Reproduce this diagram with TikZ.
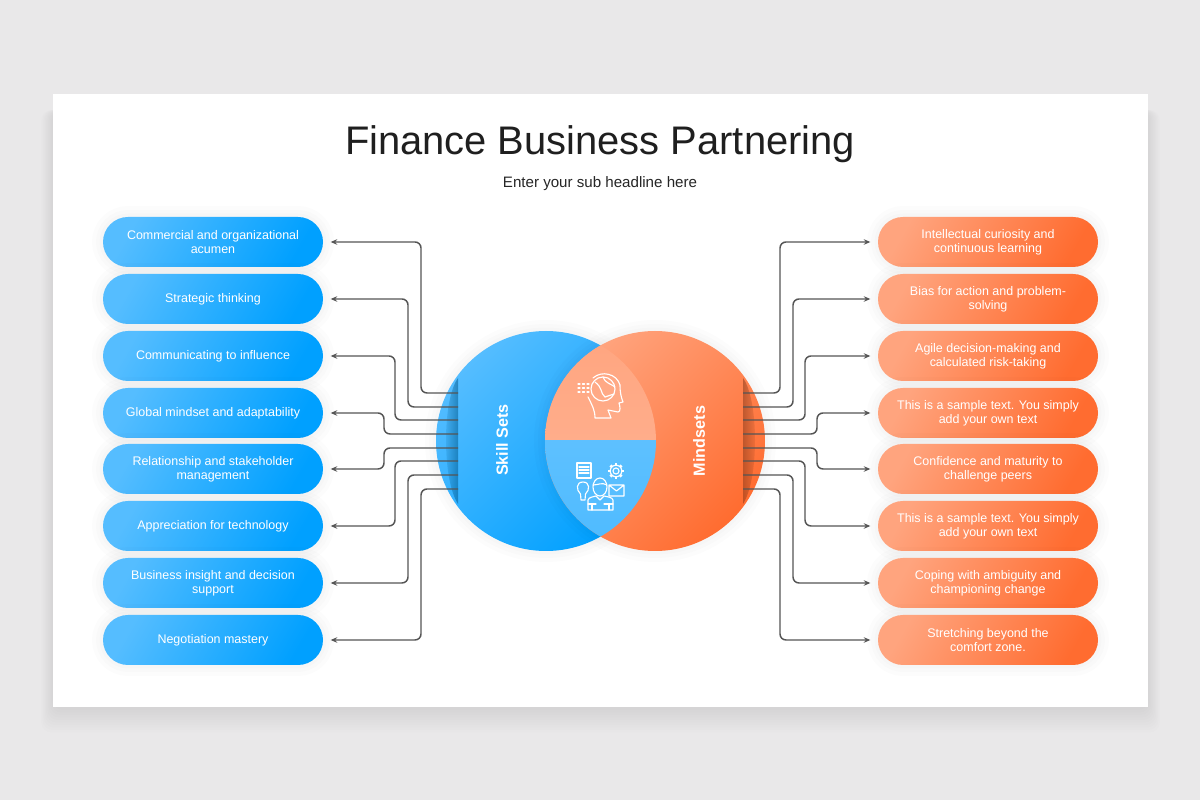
\documentclass[tikz,border=0pt]{standalone}
\usepackage{fontspec}
\setmainfont{Liberation Sans}
\usetikzlibrary{arrows.meta,shapes,fadings,calc}
\definecolor{pagegray}{HTML}{E9E8E9}
\definecolor{skylight}{HTML}{55BDFF}
\definecolor{skydeep}{HTML}{00A0FF}
\definecolor{sunlight}{HTML}{FFA47E}
\definecolor{sundeep}{HTML}{FF6C30}
\definecolor{linkgray}{HTML}{555555}
\tikzstyle{softglow}=[preaction={draw=black,draw opacity=.012,line width=.22cm},preaction={draw=black,draw opacity=.012,line width=.14cm},preaction={draw=black,draw opacity=.012,line width=.07cm}]
\tikzstyle{pill}=[rounded rectangle,minimum width=2.2cm,minimum height=.5cm,inner sep=0pt,text=white,align=center,font=\fontsize{3.55}{4.1}\selectfont,softglow]
\tikzstyle{skillbox}=[pill,top color=skylight,bottom color=skydeep,shading angle=60]
\tikzstyle{mindbox}=[pill,top color=sunlight,bottom color=sundeep,shading angle=60]
\tikzstyle{link}=[draw=linkgray,line width=.42pt,rounded corners=.06cm,-{Stealth[length=.065cm,width=.055cm]},shorten >=.07cm]
\tikzstyle{icon}=[draw=white,line width=.32pt,line join=round,line cap=round]
\tikzstyle{bigcircle}=[circle,minimum size=2.2cm,inner sep=0pt,softglow]
\begin{document}
\begin{tikzpicture}[y=-1cm]
	\useasboundingbox (0,0) rectangle (12,8);
	\fill[pagegray] (0,0) rectangle (12,8);
	% card with its shadow
	\foreach \s in {.01,.035,...,.26}
		\fill[black,opacity=.009,rounded corners=.1cm] (.53-.5*\s,1.1) rectangle (11.48+.5*\s,7.07+\s+.02);
	\fill[white] (.53,.94) rectangle (11.48,7.07);
	\node[text=black!88,font=\fontsize{11.35}{13}\selectfont] (headline) at (6,1.44) {Finance Business Partnering};
	\node[text=black!85,font=\fontsize{4.3}{5}\selectfont] (subline) at (6,1.84) {Enter your sub headline here};
	% circles
	\node[bigcircle,top color=skylight,bottom color=skydeep,shading angle=45] (skill) at (5.46,4.41) {};
	\node[bigcircle,top color=sunlight,bottom color=sundeep,shading angle=45] (mind) at (6.55,4.41) {};
	\begin{scope}
		\clip (skill.center) circle (1.1);
		\clip (mind.center) circle (1.1);
		\shade[top color=sunlight,bottom color=sunlight!90!white] (5,3.2) rectangle (7,4.41);
		\shade[top color=skylight!95!white,bottom color=skylight!90!skydeep] (5,4.41) rectangle (7,5.6);
	\end{scope}
	% dark edges beside the line ends
	\begin{scope}
		\clip (skill.center) circle (1.1);
		\fill[skydeep!55!black,opacity=.55,path fading=west] (4.58,3.78) .. controls (4.42,4.0) and (4.42,4.8) .. (4.58,5.04) -- cycle;
	\end{scope}
	\begin{scope}
		\clip (mind.center) circle (1.1);
		\fill[sundeep!55!black,opacity=.55,path fading=east] (7.43,3.78) .. controls (7.59,4.0) and (7.59,4.8) .. (7.43,5.04) -- cycle;
	\end{scope}
	\node[rotate=90,text=white,font=\fontsize{4.6}{5}\bfseries\selectfont] (skilltext) at (5.02,4.4) {Skill Sets};
	\node[rotate=90,text=white,font=\fontsize{4.6}{5}\bfseries\selectfont] (mindtext) at (6.99,4.41) {Mindsets};
	% left boxes
	\node[skillbox] (l1) at (2.13,2.42) {Commercial and organizational\\acumen};
	\node[skillbox] (l2) at (2.13,2.99) {Strategic thinking};
	\node[skillbox] (l3) at (2.13,3.56) {Communicating to influence};
	\node[skillbox] (l4) at (2.13,4.13) {Global mindset and adaptability};
	\node[skillbox] (l5) at (2.13,4.69) {Relationship and stakeholder\\management};
	\node[skillbox] (l6) at (2.13,5.26) {Appreciation for technology};
	\node[skillbox] (l7) at (2.13,5.83) {Business insight and decision\\support};
	\node[skillbox] (l8) at (2.13,6.40) {Negotiation mastery};
	% right boxes
	\node[mindbox] (r1) at (9.88,2.42) {Intellectual curiosity and\\continuous learning};
	\node[mindbox] (r2) at (9.88,2.99) {Bias for action and problem-\\solving};
	\node[mindbox] (r3) at (9.88,3.56) {Agile decision-making and\\calculated risk-taking};
	\node[mindbox] (r4) at (9.88,4.13) {This is a sample text.  You simply\\add your own text};
	\node[mindbox] (r5) at (9.88,4.69) {Confidence and maturity to\\challenge peers};
	\node[mindbox] (r6) at (9.88,5.26) {This is a sample text.  You simply\\add your own text};
	\node[mindbox] (r7) at (9.88,5.83) {Coping with ambiguity and\\championing change};
	\node[mindbox] (r8) at (9.88,6.40) {Stretching beyond the\\comfort zone.};
	% connectors
	\foreach \i/\xl/\xr/\yv in {1/4.21/7.80/3.93,2/4.08/7.93/4.07,3/3.95/8.05/4.20,4/3.84/8.17/4.34,5/3.84/8.17/4.48,6/3.95/8.05/4.61,7/4.08/7.93/4.75,8/4.21/7.80/4.89}{
		\coordinate (a\i) at (4.58,\yv);
		\coordinate (b\i) at (7.43,\yv);
		\draw[link] (a\i) -- (\xl,\yv) |- (l\i.east);
		\draw[link] (b\i) -- (\xr,\yv) |- (r\i.west);
	}
	% head icon
	\draw[icon] (5.88,3.97) .. controls (5.92,4.05) and (5.95,4.10) .. (5.95,4.18) -- (6.11,4.18) -- (6.08,4.10) -- (6.18,4.12) .. controls (6.21,4.12) and (6.20,4.06) .. (6.19,4.03) -- (6.23,4.02) .. controls (6.21,3.97) and (6.20,3.92) .. (6.20,3.85) .. controls (6.17,3.74) and (6.02,3.70) .. (5.93,3.78);
	\draw[icon] (6.03,3.89) circle (.12);
	\draw[icon] (5.95,3.82) .. controls (6.03,3.88) and (6.00,3.93) .. (6.05,3.97);
	\draw[icon] (6.03,3.77) .. controls (6.06,3.84) and (6.10,3.83) .. (6.15,3.87);
	\draw[icon] (6.05,3.97) -- (6.14,3.94);
	\foreach \yd in {3.84,3.88,3.92}
		\draw[icon,dash pattern=on .02cm off .025cm] (5.78,\yd) -- (5.90,\yd);
	% people icon
	\draw[icon] (5.77,4.63) rectangle (5.91,4.78);
	\foreach \yd in {4.67,4.70,4.73}
		\draw[icon] (5.79,\yd) -- (5.89,\yd);
	\draw[icon] (6.16,4.71) circle (.03);
	\draw[icon] (6.16,4.71) circle (.058);
	\foreach \a in {0,45,...,315}
		\draw[icon,line width=.8pt,line cap=butt] (6.16,4.71)+(\a:.055) -- +(\a:.078);
	\draw[icon] (6.09,4.85) rectangle (6.24,4.96) (6.09,4.85) -- (6.165,4.91) -- (6.24,4.85);
	\draw[icon] (5.805,4.94) .. controls (5.76,4.90) and (5.76,4.82) .. (5.83,4.82) .. controls (5.90,4.82) and (5.90,4.90) .. (5.855,4.94) -- (5.85,5.00) -- (5.81,5.00) -- cycle;
	\draw[icon] (6.00,4.87) ellipse (.07 and .09);
	\draw[icon] (5.93,4.85) .. controls (5.98,4.85) and (6.02,4.82) .. (6.07,4.85);
	\draw[icon] (5.88,5.10) -- (5.88,5.00) .. controls (5.89,4.97) and (5.93,4.97) .. (5.96,4.96) -- (6.00,5.00) -- (6.04,4.96) .. controls (6.08,4.97) and (6.12,4.97) .. (6.13,5.00) -- (6.13,5.10) -- cycle;
	\draw[icon] (5.92,5.04) -- (5.92,5.10) (6.09,5.04) -- (6.09,5.10) (5.88,5.04) -- (5.96,5.04) (6.04,5.04) -- (6.13,5.04);
\end{tikzpicture}
\end{document}
